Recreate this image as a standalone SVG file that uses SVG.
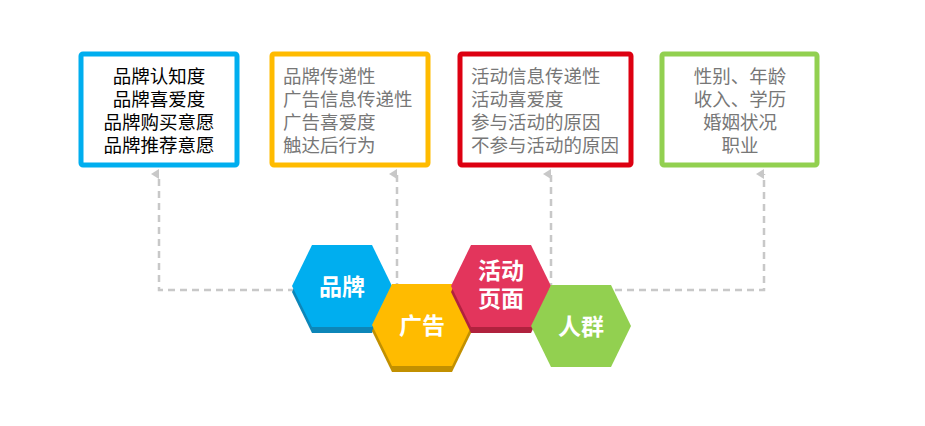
<svg xmlns="http://www.w3.org/2000/svg" width="925" height="426" viewBox="0 0 925 426">
<style>
text{font-family:"Noto Sans CJK SC","Microsoft YaHei",sans-serif;font-size:18.5px}
.b{fill:#fff;stroke-width:5}
.g{fill:#777}
.h{fill:#fff;font-size:23px;font-weight:bold;text-anchor:middle}
.d{fill:none;stroke:#c8c8c8;stroke-width:2.5;stroke-dasharray:7 5}
</style>
<defs>
<marker id="a" markerWidth="10" markerHeight="10" refX="5" refY="8" orient="auto-start-reverse" markerUnits="userSpaceOnUse"><path d="M0,8 L5,0 L10,8 Z" fill="#c8c8c8"/></marker>
<polygon id="hx" points="-50,0 -30,-41 30,-41 50,0 30,41 -30,41"/>
</defs>
<rect width="925" height="426" fill="#fff"/>
<g id="connectors">
<path class="d" d="M295,290 H159 V174" marker-end="url(#a)"/>
<path class="d" d="M397,290 V174" marker-end="url(#a)"/>
<path class="d" d="M551,290 V174" marker-end="url(#a)"/>
<path class="d" d="M615,290 H764 V174" marker-end="url(#a)"/>
</g>
<g id="box1"><rect class="b" x="81" y="54" width="156" height="111" rx="2" stroke="#00aeef"/>
<text x="159" y="83" text-anchor="middle">品牌认知度</text><text x="159" y="106" text-anchor="middle">品牌喜爱度</text><text x="159" y="129" text-anchor="middle">品牌购买意愿</text><text x="159" y="152" text-anchor="middle">品牌推荐意愿</text></g>
<g id="box2"><rect class="b" x="272" y="54" width="156" height="111" rx="2" stroke="#ffbb00"/>
<g class="g"><text x="283" y="83">品牌传递性</text><text x="283" y="106">广告信息传递性</text><text x="283" y="129">广告喜爱度</text><text x="283" y="152">触达后行为</text></g></g>
<g id="box3"><rect class="b" x="460" y="54" width="171" height="111" rx="2" stroke="#dd0011"/>
<g class="g"><text x="471" y="83">活动信息传递性</text><text x="471" y="106">活动喜爱度</text><text x="471" y="129">参与活动的原因</text><text x="471" y="152">不参与活动的原因</text></g></g>
<g id="box4"><rect class="b" x="662" y="54" width="155" height="111" rx="2" stroke="#92d050"/>
<g class="g" text-anchor="middle"><text x="740" y="83">性别、年龄</text><text x="740" y="106">收入、学历</text><text x="740" y="129">婚姻状况</text><text x="740" y="152">职业</text></g></g>
<g id="hex-brand"><use href="#hx" x="342" y="292" fill="#0d86b8"/><use href="#hx" x="342" y="286" fill="#00aeef"/><text class="h" x="342" y="295">品牌</text></g>
<g id="hex-ad"><use href="#hx" x="422" y="331" fill="#c29000"/><use href="#hx" x="422" y="325" fill="#ffbb00"/><text class="h" x="422" y="334">广告</text></g>
<g id="hex-act"><use href="#hx" x="501" y="292" fill="#b0223e"/><use href="#hx" x="501" y="286" fill="#e3355c"/><text class="h" x="501" y="279">活动</text><text class="h" x="501" y="307">页面</text></g>
<g id="hex-people"><use href="#hx" x="581" y="326" fill="#92d050"/><text class="h" x="581" y="335">人群</text></g>
</svg>
